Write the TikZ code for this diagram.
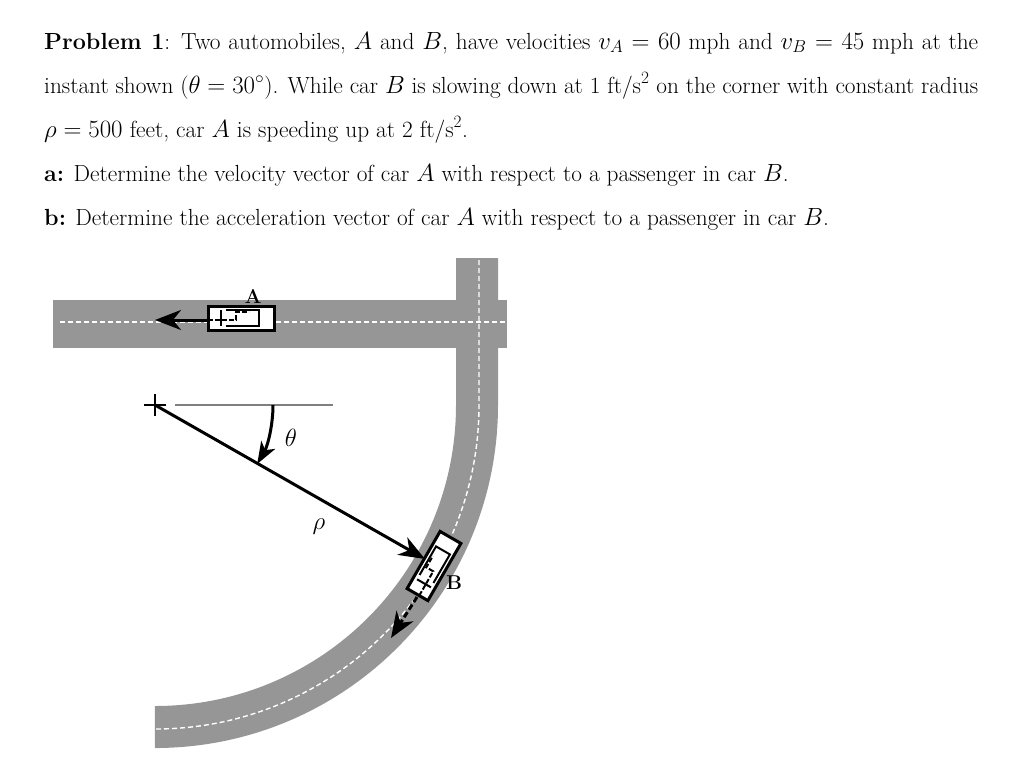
\documentclass[tikz,border=0pt]{standalone}
\usetikzlibrary{arrows.meta}
\begin{document}
\begin{tikzpicture}[x=1pt,y=-1pt,
  ctr/.style={white,line width=1.4pt,dash pattern=on 5pt off 3pt},
  txt/.style={anchor=base west,inner sep=0pt,font=\fontsize{23.3}{28}\selectfont},
  big/.style={-{Stealth[length=26pt,width=20pt,inset=8pt]},line width=3pt},
  carbody/.style={draw=black,fill=white,line width=3pt}]
\useasboundingbox (0,0) rectangle (1024,771);
\node[txt] (l1) at (44,49) {\makebox[934pt][s]{\textbf{Problem 1}: Two automobiles, $A$ and $B$, have velocities $v_A=60$ mph and $v_B=45$ mph at the}};
\node[txt] (l2) at (44,93) {\makebox[934pt][s]{instant shown ($\theta=30^\circ$). While car $B$ is slowing down at 1 ft/s$^2$ on the corner with constant radius}};
\node[txt] (l3) at (44,137) {$\rho=500$ feet, car $A$ is speeding up at 2 ft/s$^2$.};
\node[txt] (l4) at (44,181) {\textbf{a:} Determine the velocity vector of car $A$ with respect to a passenger in car $B$.};
\node[txt] (l5) at (44,225) {\textbf{b:} Determine the acceleration vector of car $A$ with respect to a passenger in car $B$.};
% roads
\definecolor{rd}{RGB}{150,150,150}
\draw[line width=48pt,rd] (53,324) -- (507,324);
\draw[line width=42pt,rd] (477,258) -- (477,405) arc[start angle=0,end angle=90,radius=322] -- (160,727);
\draw[ctr] (60,322) -- (510,322);
\draw[ctr] (479,260) -- (479,405) arc[start angle=0,end angle=90,radius=324] -- (160,729);
% geometry
\coordinate (O) at (155,405);
\draw[line width=1.2pt] (144,405) -- (166,405) (155,394) -- (155,416);
\draw[gray,line width=1.8pt] (175,405) -- (333,405);
\draw[line width=3pt,-{Stealth[length=22pt,width=16pt,inset=6pt]}] (273,405) arc[start angle=0,end angle=30,radius=118];
\node at (291,438) (th) {\fontsize{23}{28}\selectfont$\theta$};
\node at (319,527) (rh) {\fontsize{23}{28}\selectfont$\rho$};
\coordinate (Bc) at (434,566);
\draw[big] (O) -- (425,559);
% car A
\begin{scope}[shift={(241,318)}]
  \draw[carbody] (-33,-12) rectangle (33,12);
  \draw[line width=2pt] (-15,-8) -- (18,-8) -- (18,8) -- (-15,8) (-20,-8)--(-20,8);
  \draw[line width=2pt,dash pattern=on 5pt off 2pt] (-33,2) -- (-5,2) -- (-5,-6) -- (8,-6);
\end{scope}
\node[font=\bfseries\fontsize{20}{22}\selectfont] (A) at (253,296) {A};
\draw[big] (208,320) -- (155,320);
% car B
\begin{scope}[shift={(Bc)},rotate=60]
  \draw[carbody] (-33,-12) rectangle (33,12);
  \draw[line width=2pt] (-15,-8) -- (18,-8) -- (18,8) -- (-15,8) (-20,-8)--(-20,8);
  \draw[line width=2pt,dash pattern=on 5pt off 2pt] (-33,2) -- (-5,2) -- (-5,-6) -- (8,-6);
\end{scope}
\node[font=\bfseries\fontsize{20}{22}\selectfont] (B) at (454,583) {B};
\draw[big,dash pattern=on 6pt off 3pt] (417,597) -- (391,638);
\end{tikzpicture}
\end{document}
